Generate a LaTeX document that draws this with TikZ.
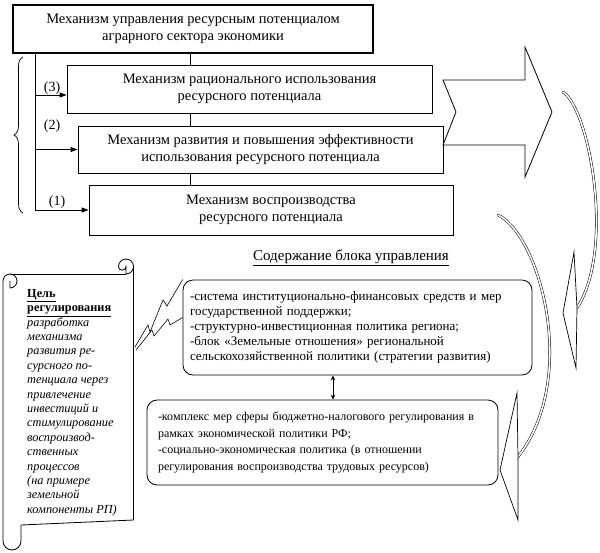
\documentclass[tikz,border=0pt]{standalone}
\usepackage{fontspec}
\setmainfont{Liberation Serif}
\usetikzlibrary{arrows.meta,decorations.pathreplacing}
\begin{document}
\begin{tikzpicture}[x=1pt,y=-1pt,
  mbox/.style={draw, line width=0.8pt, inner sep=0pt, align=center, fill=white,
    font=\fontsize{14.5}{17.5}\selectfont},
  rbox/.style={draw, line width=0.8pt, rounded corners=10pt, align=left,
    font=\fontsize{13}{15}\selectfont},
  tip/.style={-{Triangle[length=7pt,width=5pt]}, line width=0.8pt},
  lbl/.style={font=\fontsize{14}{16}\selectfont, inner sep=0pt},
  dbl/.style={double, double distance=1.6pt, line width=0.5pt, line cap=round},
  spear/.style={line width=0.7pt, fill=white, line join=miter},
  bolt/.style={line width=0.6pt},
  ]
\useasboundingbox (0,0) rectangle (600,552);

% top and mechanism boxes
\node[mbox, line width=2.5pt, minimum width=360pt, minimum height=48pt] (top) at (193,29)
  {Механизм управления ресурсным потенциалом\\аграрного сектора экономики};
\node[mbox, minimum width=365pt, minimum height=48pt] (b3) at (249.5,89)
  {Механизм рационального использования\\ресурсного потенциала};
\node[mbox, minimum width=365pt, minimum height=47pt] (b2) at (260.5,149.5)
  {Механизм развития и повышения эффективности\\использования ресурсного потенциала};
\node[mbox, minimum width=364pt, minimum height=50pt] (b1) at (271,210)
  {Механизм воспроизводства\\ресурсного потенциала};

% vertical connector between boxes
\coordinate (cx) at (190,0);
\draw[line width=0.8pt] (top.south -| cx) -- (b3.north -| cx);
\draw[line width=0.8pt] (b3.south -| cx) -- (b2.north -| cx);
\draw[line width=0.8pt] (b2.south -| cx) -- (b1.north -| cx);

% trunk with arrows
\coordinate (tr) at (35,0);
\draw[line width=0.8pt] (top.south -| tr) -- (b1.west -| tr);
\draw[tip] ([yshift=-6pt]b3.west -| tr) -- ([yshift=-6pt]b3.west);
\draw[tip] (b2.west -| tr) -- (b2.west);
\draw[tip] (b1.west -| tr) -- (b1.west);
\node[lbl] (l3) at (52,88) {(3)};
\node[lbl] (l2) at (52,126) {(2)};
\node[lbl] (l1) at (57,202) {(1)};

% brace
\draw[line width=0.7pt, decorate, decoration={brace, amplitude=9pt}] (23,213) -- (23,57);

% big block arrow
\draw[line width=0.8pt, fill=white] (443,80) -- (525,80) -- (525,47) -- (552,112)
  -- (525,177) -- (525,145) -- (443,145) -- (456,112) -- cycle;

% curved arrows
\draw[dbl] (563,92) .. controls (590,110) and (615,250) .. (577,308);
\draw[spear] (574,252) -- (563,313) -- (576,368) -- (577,308) -- cycle;
\draw[dbl] (498,215) .. controls (540,235) and (580,380) .. (517,458);
\draw[spear] (517,393) -- (500,470) -- (518,520) -- (518,458) -- cycle;

% content title and boxes
\node[font=\fontsize{15}{17}\selectfont] (title) at (351,258) {\underline{Содержание блока управления}};
\node[rbox, text width=335pt, inner xsep=7pt, minimum height=95pt] (rb1) at (357.5,327.5)
  {-система институционально-финансовых средств и мер\\государственной поддержки;\\-структурно-инвестиционная политика региона;\\-блок «Земельные отношения» региональной\\сельскохозяйственной политики (стратегии развития)};
\node[rbox, text width=329pt, inner xsep=11pt, minimum height=85pt,
  font=\fontsize{12}{16.5}\selectfont] (rb2) at (322.5,442.5)
  {-комплекс мер сферы бюджетно-налогового регулирования в\\рамках экономической политики РФ;\\-социально-экономическая политика (в отношении\\регулирования воспроизводства трудовых ресурсов)};
\coordinate (dx) at (333,0);
\draw[{Stealth[length=5pt,width=4.5pt]}-{Stealth[length=5pt,width=4.5pt]}, line width=0.8pt]
  (rb1.south -| dx) -- (rb2.north -| dx);

% scroll
\draw[line width=0.8pt] (3,541) -- (3,281) arc (180:450:7) -- (10,281);
\draw[line width=0.8pt] (10,274) -- (126,274);
\draw[line width=0.8pt] (126,274) arc (90:-180:7.5) arc (180:0:3.75) -- (126,274);
\draw[line width=0.8pt] (133.5,266.5) -- (133.5,520) -- (21,525);
\draw[line width=0.8pt] (3,541) arc (180:0:9) -- (21,525);
\node[anchor=north west, align=left, inner sep=0pt,
  font=\fontsize{12.3}{14.4}\selectfont] (goal) at (27,289)
  {\underline{\textbf{Цель}}\\\underline{\textbf{регулирования}}\\\itshape разработка\\\itshape механизма\\\itshape развития ре-\\\itshape сурсного по-\\\itshape тенциала через\\\itshape привлечение\\\itshape инвестиций и\\\itshape стимулирование\\\itshape воспроизвод-\\\itshape ственных\\\itshape процессов\\\itshape (на примере\\\itshape земельной\\\itshape компоненты РП)};

% lightning
\draw[bolt] (135,347) -- (148,325) -- (150,332) -- (163,300) -- (167,306) -- (rb1.north west);
\draw[bolt] (136,350) -- (152,330) -- (154,336) -- (168,319) -- (170,325) -- ([yshift=-38pt]rb1.north west);
\end{tikzpicture}
\end{document}
